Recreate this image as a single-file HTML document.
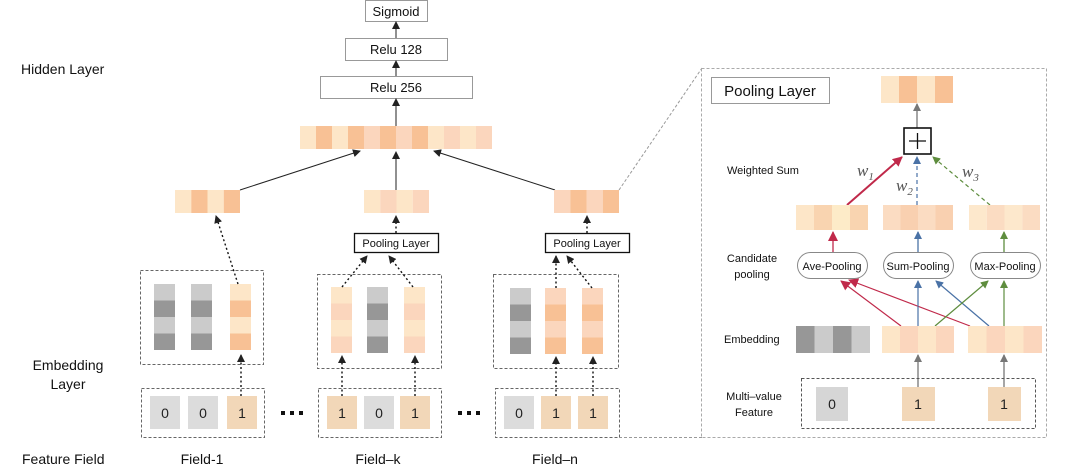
<!DOCTYPE html>
<html><head><meta charset="utf-8"><style>
html,body{margin:0;padding:0;background:#fff;}
svg{display:block;font-family:"Liberation Sans",sans-serif;}
</style></head><body>
<svg width="1077" height="472" viewBox="0 0 1077 472" xmlns="http://www.w3.org/2000/svg">
<defs>
<marker id="ak" markerWidth="8" markerHeight="8" refX="7" refY="4" orient="auto" markerUnits="userSpaceOnUse"><path d="M0,0 L8,4 L0,8 z" fill="#222"/></marker>
<marker id="ag" markerWidth="8" markerHeight="8" refX="7" refY="4" orient="auto" markerUnits="userSpaceOnUse"><path d="M0,0 L8,4 L0,8 z" fill="#777"/></marker>
<marker id="ar" markerWidth="10" markerHeight="10" refX="9" refY="5" orient="auto" markerUnits="userSpaceOnUse"><path d="M0,0 L10,5 L0,10 z" fill="#c0294a"/></marker>
<marker id="ab" markerWidth="8" markerHeight="8" refX="7" refY="4" orient="auto" markerUnits="userSpaceOnUse"><path d="M0,0 L8,4 L0,8 z" fill="#4a72a6"/></marker>
<marker id="agr" markerWidth="8" markerHeight="8" refX="7" refY="4" orient="auto" markerUnits="userSpaceOnUse"><path d="M0,0 L8,4 L0,8 z" fill="#5e8d3e"/></marker>
</defs>

<!-- left labels -->
<g font-size="14" fill="#111">
<text x="21" y="74">Hidden Layer</text>
<text x="68" y="370" text-anchor="middle">Embedding</text>
<text x="68" y="389" text-anchor="middle">Layer</text>
<text x="22" y="464">Feature Field</text>
<text x="202" y="464" text-anchor="middle">Field-1</text>
<text x="378" y="464" text-anchor="middle">Field–k</text>
<text x="555" y="464" text-anchor="middle">Field–n</text>
</g>

<!-- hidden boxes -->
<g fill="#fff" stroke="#999" stroke-width="1">
<rect x="365.5" y="0.5" width="62" height="21"/>
<rect x="345.5" y="38.5" width="102" height="22"/>
<rect x="320.5" y="76.5" width="152" height="22"/>
</g>
<g font-size="13" fill="#111" text-anchor="middle">
<text x="396" y="16">Sigmoid</text>
<text x="396" y="54">Relu 128</text>
<text x="396" y="92">Relu 256</text>
</g>
<g stroke="#222" stroke-width="1" fill="none">
<line x1="396" y1="38" x2="396" y2="22" marker-end="url(#ak)"/>
<line x1="396" y1="76" x2="396" y2="61" marker-end="url(#ak)"/>
<line x1="396" y1="126" x2="396" y2="99" marker-end="url(#ak)"/>
</g>

<!-- concat bar -->
<g>
<rect x="300" y="126" width="16" height="23" fill="#fde6c8"/>
<rect x="316" y="126" width="16" height="23" fill="#f8c195"/>
<rect x="332" y="126" width="16" height="23" fill="#fde6c8"/>
<rect x="348" y="126" width="16" height="23" fill="#f8c195"/>
<rect x="364" y="126" width="16" height="23" fill="#fbd6bd"/>
<rect x="380" y="126" width="16" height="23" fill="#f8c195"/>
<rect x="396" y="126" width="16" height="23" fill="#fbd6bd"/>
<rect x="412" y="126" width="16" height="23" fill="#f8c195"/>
<rect x="428" y="126" width="16" height="23" fill="#fde6c8"/>
<rect x="444" y="126" width="16" height="23" fill="#fbd6bd"/>
<rect x="460" y="126" width="16" height="23" fill="#fde6c8"/>
<rect x="476" y="126" width="16" height="23" fill="#fbd6bd"/>
</g>
<g stroke="#222" stroke-width="1" fill="none">
<line x1="240" y1="190" x2="360" y2="151" marker-end="url(#ak)"/>
<line x1="396" y1="190" x2="396" y2="152" marker-end="url(#ak)"/>
<line x1="555" y1="190" x2="434" y2="151" marker-end="url(#ak)"/>
</g>

<!-- field output bars -->
<g>
<rect x="175" y="190" width="16.25" height="23" fill="#fde6c8"/>
<rect x="191.25" y="190" width="16.25" height="23" fill="#f8c195"/>
<rect x="207.5" y="190" width="16.25" height="23" fill="#fde6c8"/>
<rect x="223.75" y="190" width="16.25" height="23" fill="#f8c195"/>
<rect x="364" y="190" width="16.25" height="23" fill="#fde6c8"/>
<rect x="380.25" y="190" width="16.25" height="23" fill="#fbd6bd"/>
<rect x="396.5" y="190" width="16.25" height="23" fill="#fde6c8"/>
<rect x="412.75" y="190" width="16.25" height="23" fill="#fbd6bd"/>
<rect x="554" y="190" width="16.25" height="23" fill="#fbd6bd"/>
<rect x="570.25" y="190" width="16.25" height="23" fill="#f8c195"/>
<rect x="586.5" y="190" width="16.25" height="23" fill="#fbd6bd"/>
<rect x="602.75" y="190" width="16.25" height="23" fill="#f8c195"/>
</g>

<!-- pooling boxes -->
<g fill="#fff" stroke="#111" stroke-width="1.3">
<rect x="354.5" y="233.5" width="84" height="19"/>
<rect x="545.5" y="233.5" width="84" height="19"/>
</g>
<g font-size="11" fill="#111" text-anchor="middle">
<text x="396" y="247">Pooling Layer</text>
<text x="587" y="247">Pooling Layer</text>
</g>

<!-- dashed group boxes -->
<g fill="none" stroke="#666" stroke-width="1" stroke-dasharray="3,2">
<rect x="140.5" y="270.5" width="123" height="94"/>
<rect x="317.5" y="274.5" width="124" height="94"/>
<rect x="493.5" y="274.5" width="125" height="94"/>
<rect x="141.5" y="388.5" width="123" height="49"/>
<rect x="318.5" y="388.5" width="123" height="49"/>
<rect x="495.5" y="388.5" width="124" height="49"/>
</g>

<!-- embedding columns -->
<g>
<!-- field1 -->
<rect x="154" y="284" width="21" height="16.5" fill="#cbcbcb"/><rect x="154" y="300.5" width="21" height="16.5" fill="#979797"/><rect x="154" y="317" width="21" height="16.5" fill="#cbcbcb"/><rect x="154" y="333.5" width="21" height="16.5" fill="#979797"/>
<rect x="191" y="284" width="21" height="16.5" fill="#cbcbcb"/><rect x="191" y="300.5" width="21" height="16.5" fill="#979797"/><rect x="191" y="317" width="21" height="16.5" fill="#cbcbcb"/><rect x="191" y="333.5" width="21" height="16.5" fill="#979797"/>
<rect x="230" y="284" width="21" height="16.5" fill="#fde6c8"/><rect x="230" y="300.5" width="21" height="16.5" fill="#f8c195"/><rect x="230" y="317" width="21" height="16.5" fill="#fde6c8"/><rect x="230" y="333.5" width="21" height="16.5" fill="#f8c195"/>
<!-- field k -->
<rect x="331" y="287" width="21" height="16.5" fill="#fde6c8"/><rect x="331" y="303.5" width="21" height="16.5" fill="#fbd6bd"/><rect x="331" y="320" width="21" height="16.5" fill="#fde6c8"/><rect x="331" y="336.5" width="21" height="16.5" fill="#fbd6bd"/>
<rect x="367" y="287" width="21" height="16.5" fill="#cbcbcb"/><rect x="367" y="303.5" width="21" height="16.5" fill="#979797"/><rect x="367" y="320" width="21" height="16.5" fill="#cbcbcb"/><rect x="367" y="336.5" width="21" height="16.5" fill="#979797"/>
<rect x="404" y="287" width="21" height="16.5" fill="#fde6c8"/><rect x="404" y="303.5" width="21" height="16.5" fill="#fbd6bd"/><rect x="404" y="320" width="21" height="16.5" fill="#fde6c8"/><rect x="404" y="336.5" width="21" height="16.5" fill="#fbd6bd"/>
<!-- field n -->
<rect x="510" y="288" width="21" height="16.5" fill="#cbcbcb"/><rect x="510" y="304.5" width="21" height="16.5" fill="#979797"/><rect x="510" y="321" width="21" height="16.5" fill="#cbcbcb"/><rect x="510" y="337.5" width="21" height="16.5" fill="#979797"/>
<rect x="545" y="288" width="21" height="16.5" fill="#fbd6bd"/><rect x="545" y="304.5" width="21" height="16.5" fill="#f8c195"/><rect x="545" y="321" width="21" height="16.5" fill="#fbd6bd"/><rect x="545" y="337.5" width="21" height="16.5" fill="#f8c195"/>
<rect x="582" y="288" width="21" height="16.5" fill="#fbd6bd"/><rect x="582" y="304.5" width="21" height="16.5" fill="#f8c195"/><rect x="582" y="321" width="21" height="16.5" fill="#fbd6bd"/><rect x="582" y="337.5" width="21" height="16.5" fill="#f8c195"/>
</g>

<!-- input squares -->
<g>
<rect x="150" y="396" width="30" height="33" fill="#dcdcdc"/>
<rect x="188" y="396" width="30" height="33" fill="#dcdcdc"/>
<rect x="227" y="396" width="30" height="33" fill="#f2d7b8"/>
<rect x="327" y="396" width="30" height="33" fill="#f2d7b8"/>
<rect x="364" y="396" width="30" height="33" fill="#dcdcdc"/>
<rect x="400" y="396" width="30" height="33" fill="#f2d7b8"/>
<rect x="504" y="396" width="30" height="33" fill="#dcdcdc"/>
<rect x="541" y="396" width="30" height="33" fill="#f2d7b8"/>
<rect x="578" y="396" width="30" height="33" fill="#f2d7b8"/>
</g>
<g font-size="14" fill="#222" text-anchor="middle">
<text x="165" y="418">0</text><text x="203" y="418">0</text><text x="242" y="418">1</text>
<text x="342" y="418">1</text><text x="379" y="418">0</text><text x="415" y="418">1</text>
<text x="519" y="418">0</text><text x="556" y="418">1</text><text x="593" y="418">1</text>
</g>
<g fill="#111">
<rect x="281" y="411" width="4" height="4"/><rect x="290" y="411" width="4" height="4"/><rect x="299" y="411" width="4" height="4"/>
<rect x="458" y="411" width="4" height="4"/><rect x="467" y="411" width="4" height="4"/><rect x="476" y="411" width="4" height="4"/>
</g>

<!-- dotted arrows -->
<g stroke="#111" stroke-width="1.4" stroke-dasharray="2,2.5" fill="none">
<line x1="241" y1="396" x2="241" y2="355" marker-end="url(#ak)"/>
<line x1="342" y1="396" x2="342" y2="356" marker-end="url(#ak)"/>
<line x1="415" y1="396" x2="415" y2="356" marker-end="url(#ak)"/>
<line x1="556" y1="396" x2="556" y2="357" marker-end="url(#ak)"/>
<line x1="593" y1="396" x2="593" y2="357" marker-end="url(#ak)"/>
<line x1="238" y1="284" x2="216" y2="216" marker-end="url(#ak)"/>
<line x1="342" y1="287" x2="367" y2="256" marker-end="url(#ak)"/>
<line x1="413" y1="287" x2="389" y2="256" marker-end="url(#ak)"/>
<line x1="556" y1="288" x2="556" y2="256" marker-end="url(#ak)"/>
<line x1="592" y1="288" x2="567" y2="256" marker-end="url(#ak)"/>
<line x1="396" y1="233" x2="396" y2="216" marker-end="url(#ak)"/>
<line x1="587" y1="233" x2="587" y2="216" marker-end="url(#ak)"/>
</g>
<g stroke="#999" stroke-width="1" stroke-dasharray="3,2" fill="none">
<line x1="619" y1="190" x2="702" y2="68"/>
<line x1="619" y1="437.5" x2="702" y2="437.5"/>
</g>

<!-- right panel -->
<rect x="701.5" y="68.5" width="345" height="369" fill="none" stroke="#aaa" stroke-dasharray="3,2"/>
<rect x="711.5" y="77.5" width="118" height="26" fill="#fff" stroke="#999"/>
<text x="770" y="96" font-size="15" text-anchor="middle" fill="#111">Pooling Layer</text>

<g>
<rect x="881" y="76" width="18" height="27" fill="#fde6c8"/><rect x="899" y="76" width="18" height="27" fill="#f8c195"/><rect x="917" y="76" width="18" height="27" fill="#fde6c8"/><rect x="935" y="76" width="18" height="27" fill="#f8c195"/>
</g>
<line x1="917" y1="128" x2="917" y2="104" stroke="#777" stroke-width="1.3" marker-end="url(#ag)"/>
<rect x="904" y="128" width="27" height="26" fill="#fff" stroke="#111" stroke-width="1.6"/>
<line x1="917.5" y1="133" x2="917.5" y2="149" stroke="#111" stroke-width="1.3"/>
<line x1="909" y1="141" x2="926" y2="141" stroke="#111" stroke-width="1.3"/>

<g font-size="11" fill="#111">
<text x="727" y="174">Weighted Sum</text>
<text x="752" y="262" text-anchor="middle">Candidate</text>
<text x="752" y="278" text-anchor="middle">pooling</text>
<text x="724" y="343">Embedding</text>
<text x="754" y="400" text-anchor="middle">Multi–value</text>
<text x="754" y="416" text-anchor="middle">Feature</text>
</g>
<g font-family="Liberation Serif,serif" font-style="italic" font-size="17" fill="#555">
<text x="857" y="176">w<tspan font-size="11" dy="4">1</tspan></text>
<text x="896" y="191">w<tspan font-size="11" dy="4">2</tspan></text>
<text x="962" y="177">w<tspan font-size="11" dy="4">3</tspan></text>
</g>

<line x1="847" y1="205" x2="902" y2="157" stroke="#c0294a" stroke-width="2" marker-end="url(#ar)"/>
<line x1="917" y1="205" x2="917" y2="157" stroke="#4a72a6" stroke-width="1.2" stroke-dasharray="4,3" marker-end="url(#ab)"/>
<line x1="990" y1="205" x2="933" y2="157" stroke="#5e8d3e" stroke-width="1.2" stroke-dasharray="4,3" marker-end="url(#agr)"/>

<!-- candidate bars -->
<g>
<rect x="796" y="205" width="18" height="25" fill="#fde6c8"/><rect x="814" y="205" width="18" height="25" fill="#f9d4b0"/><rect x="832" y="205" width="18" height="25" fill="#fdebc8"/><rect x="850" y="205" width="18" height="25" fill="#f9d4b0"/>
<rect x="883" y="205" width="17.5" height="25" fill="#fbdcc2"/><rect x="900.5" y="205" width="17.5" height="25" fill="#f9d0b0"/><rect x="918" y="205" width="17.5" height="25" fill="#fbdcc2"/><rect x="935.5" y="205" width="17.5" height="25" fill="#f9d0b0"/>
<rect x="969" y="205" width="17.75" height="25" fill="#fde8cc"/><rect x="986.75" y="205" width="17.75" height="25" fill="#fbdcc2"/><rect x="1004.5" y="205" width="17.75" height="25" fill="#fde8cc"/><rect x="1022.25" y="205" width="17.75" height="25" fill="#fbdcc2"/>
</g>
<line x1="833" y1="252" x2="833" y2="232" stroke="#c0294a" stroke-width="1.3" marker-end="url(#ar)"/>
<line x1="918" y1="252" x2="918" y2="232" stroke="#4a72a6" stroke-width="1.3" marker-end="url(#ab)"/>
<line x1="1004" y1="252" x2="1004" y2="232" stroke="#5e8d3e" stroke-width="1.3" marker-end="url(#agr)"/>

<!-- ovals -->
<g fill="#fff" stroke="#888" stroke-width="1">
<rect x="797.5" y="252.5" width="70" height="26" rx="13"/>
<rect x="883.5" y="252.5" width="70" height="26" rx="13"/>
<rect x="970.5" y="252.5" width="70" height="26" rx="13"/>
</g>
<g font-size="11" fill="#111" text-anchor="middle">
<text x="832" y="270">Ave-Pooling</text>
<text x="918" y="270">Sum-Pooling</text>
<text x="1005" y="270">Max-Pooling</text>
</g>

<!-- connections -->
<g stroke-width="1.2" fill="none">
<line x1="901" y1="326" x2="841" y2="281" stroke="#c0294a" marker-end="url(#ar)"/>
<line x1="970" y1="326" x2="849" y2="280" stroke="#c0294a" marker-end="url(#ar)"/>
<line x1="918" y1="326" x2="918" y2="281" stroke="#4a72a6" marker-end="url(#ab)"/>
<line x1="989" y1="326" x2="936" y2="281" stroke="#4a72a6" marker-end="url(#ab)"/>
<line x1="935" y1="326" x2="988" y2="281" stroke="#5e8d3e" marker-end="url(#agr)"/>
<line x1="1004" y1="326" x2="1004" y2="281" stroke="#5e8d3e" marker-end="url(#agr)"/>
</g>

<!-- embedding bars -->
<g>
<rect x="796" y="326" width="18.5" height="27" fill="#979797"/><rect x="814.5" y="326" width="18.5" height="27" fill="#cbcbcb"/><rect x="833" y="326" width="18.5" height="27" fill="#979797"/><rect x="851.5" y="326" width="18.5" height="27" fill="#cbcbcb"/>
<rect x="882" y="326" width="18" height="27" fill="#fde6c8"/><rect x="900" y="326" width="18" height="27" fill="#fbd6bd"/><rect x="918" y="326" width="18" height="27" fill="#fde6c8"/><rect x="936" y="326" width="18" height="27" fill="#fbd6bd"/>
<rect x="968" y="326" width="18.5" height="27" fill="#fde6c8"/><rect x="986.5" y="326" width="18.5" height="27" fill="#fbd6bd"/><rect x="1005" y="326" width="18.5" height="27" fill="#fde6c8"/><rect x="1023.5" y="326" width="18.5" height="27" fill="#fbd6bd"/>
</g>
<line x1="918" y1="388" x2="918" y2="355" stroke="#777" stroke-width="1.3" marker-end="url(#ag)"/>
<line x1="1004" y1="388" x2="1004" y2="355" stroke="#777" stroke-width="1.3" marker-end="url(#ag)"/>

<rect x="801.5" y="378.5" width="234" height="50" fill="none" stroke="#555" stroke-dasharray="3,2"/>
<rect x="816" y="387" width="32" height="34" fill="#d6d6d6"/>
<rect x="902" y="387" width="33" height="34" fill="#f2d7b8"/>
<rect x="988" y="387" width="33" height="34" fill="#f2d7b8"/>
<g font-size="14" fill="#222" text-anchor="middle">
<text x="832" y="409">0</text><text x="918" y="409">1</text><text x="1004" y="409">1</text>
</g>
</svg>
</body></html>
